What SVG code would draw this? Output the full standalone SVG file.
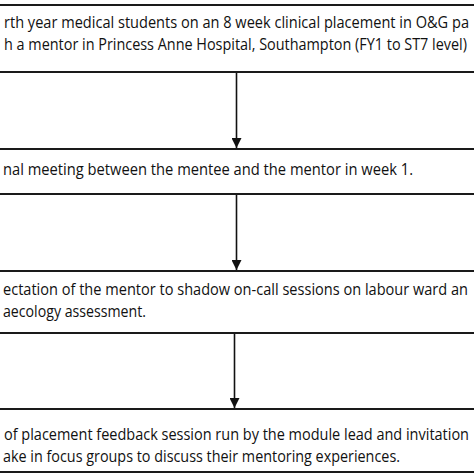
<svg xmlns="http://www.w3.org/2000/svg" width="474" height="474" viewBox="0 0 474 474">
<defs>
<marker id="ah" viewBox="0 0 10 10" refX="10" refY="5" markerWidth="11" markerHeight="10" markerUnits="userSpaceOnUse" orient="auto">
<path d="M0,0 L10,5 L0,10 Z" fill="#111"/>
</marker>
</defs>
<style>
.box{fill:#fff;stroke:#1a1a1a;stroke-width:2}
.t{font-family:"Open Sans",Lato,sans-serif;font-size:16px;fill:#111}
.c{stroke:#111;stroke-width:1.6;fill:none}
</style>
<rect width="474" height="474" fill="#fff"/>
<g id="connectors">
<line class="c" x1="236.5" y1="73" x2="236.5" y2="148" marker-end="url(#ah)"/>
<line class="c" x1="236.5" y1="195" x2="236.5" y2="270" marker-end="url(#ah)"/>
<line class="c" x1="234.5" y1="334" x2="234.5" y2="408" marker-end="url(#ah)"/>
</g>
<g id="node1">
<rect class="box" x="-20" y="5" width="514" height="67"/>
<text class="t" x="4" y="28" textLength="465" lengthAdjust="spacingAndGlyphs">rth year medical students on an 8 week clinical placement in O&amp;G pa</text>
<text class="t" x="4" y="50" textLength="463" lengthAdjust="spacingAndGlyphs">h a mentor in Princess Anne Hospital, Southampton (FY1 to ST7 level)</text>
</g>
<g id="node2">
<rect class="box" x="-20" y="149" width="514" height="45"/>
<text class="t" x="3" y="175" textLength="410" lengthAdjust="spacingAndGlyphs">nal meeting between the mentee and the mentor in week 1.</text>
</g>
<g id="node3">
<rect class="box" x="-20" y="271" width="514" height="62"/>
<text class="t" x="3" y="295" textLength="465" lengthAdjust="spacingAndGlyphs">ectation of the mentor to shadow on-call sessions on labour ward an</text>
<text class="t" x="3" y="317" textLength="143" lengthAdjust="spacingAndGlyphs">aecology assessment.</text>
</g>
<g id="node4">
<rect class="box" x="-20" y="409" width="514" height="63"/>
<text class="t" x="4" y="440" textLength="465" lengthAdjust="spacingAndGlyphs">of placement feedback session run by the module lead and invitation</text>
<text class="t" x="3" y="462" textLength="397" lengthAdjust="spacingAndGlyphs">ake in focus groups to discuss their mentoring experiences.</text>
</g>
</svg>
